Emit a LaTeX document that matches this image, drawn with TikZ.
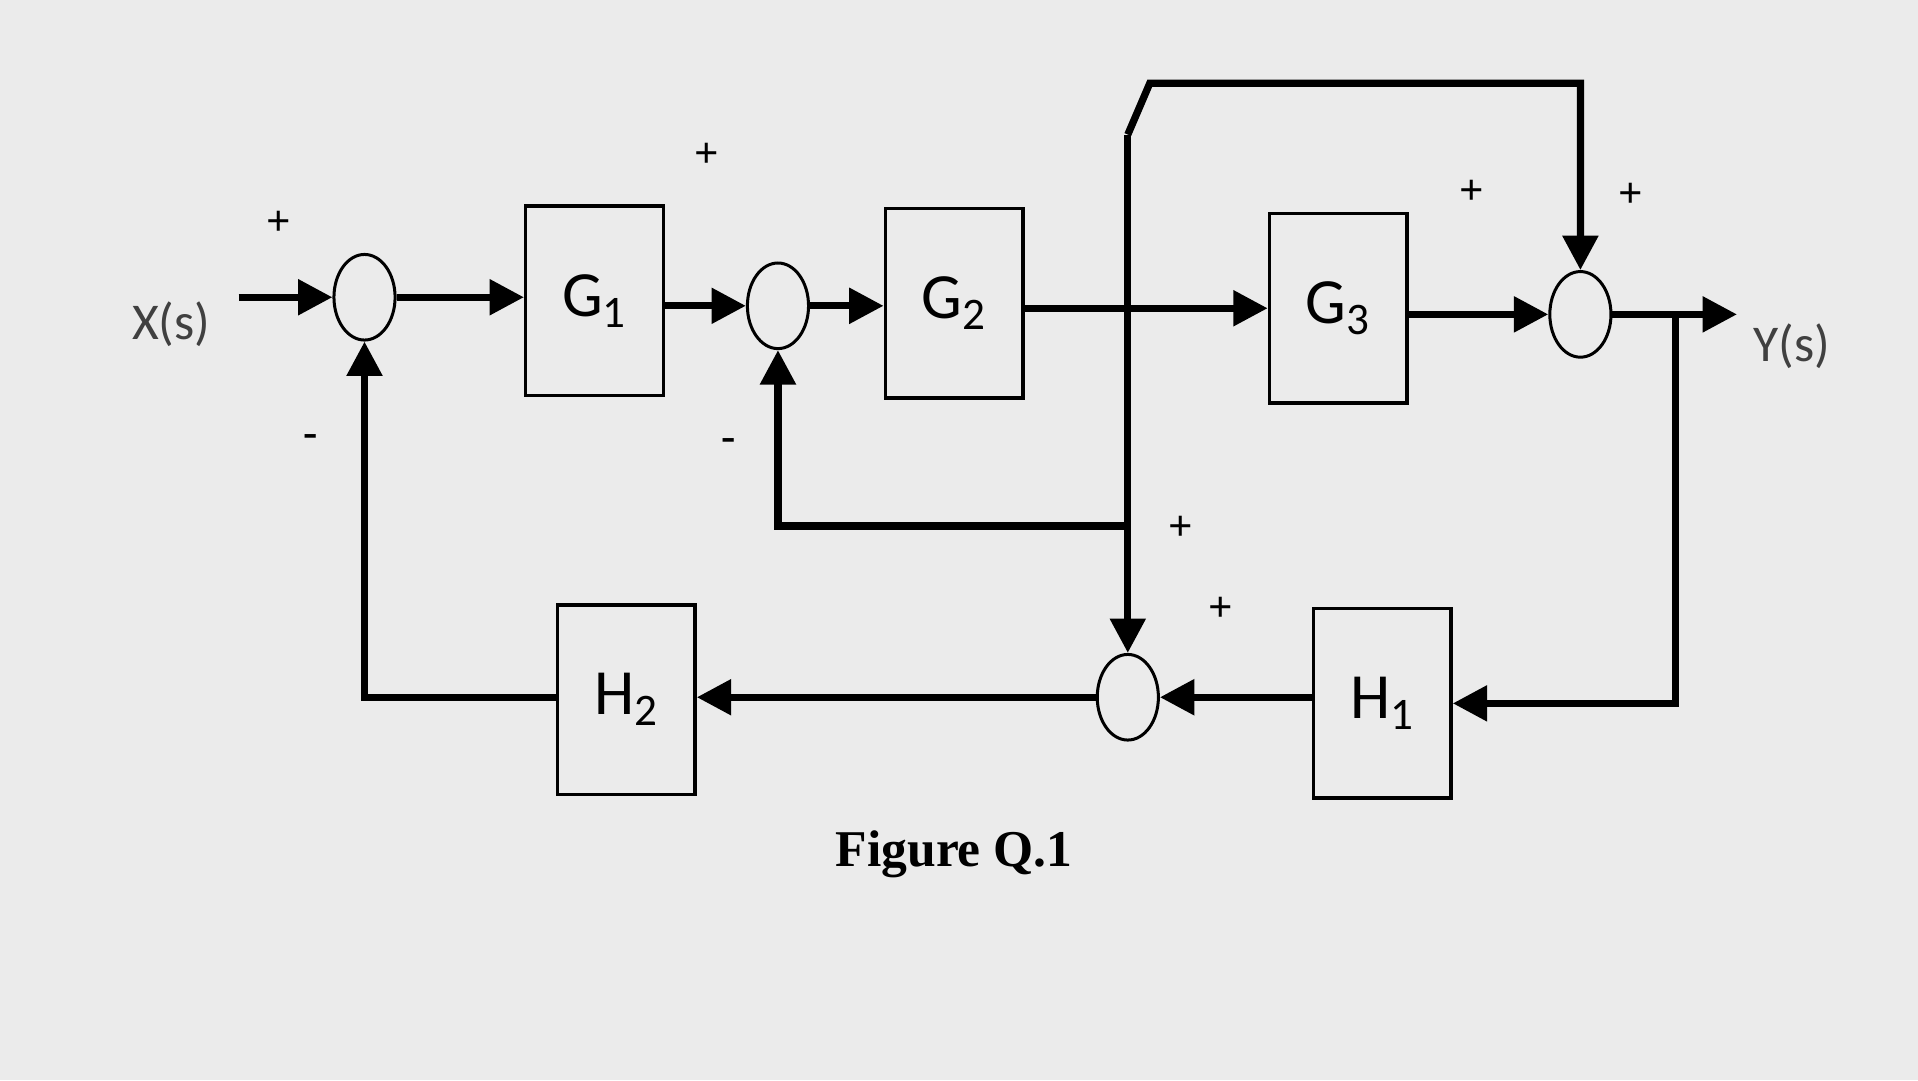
\documentclass[tikz,border=0pt]{standalone}
\usepackage{fontspec}
\setmainfont{Liberation Serif}
\newfontfamily\blocksf{Carlito}
\usetikzlibrary{arrows.meta,shapes.geometric}
\begin{document}
\begin{tikzpicture}[x=0.02cm, y=-0.02cm,
  blk/.style={draw, line width=1.6pt, minimum width=2.25cm, minimum height=3.1cm, font=\blocksf\fontsize{30}{30}\selectfont},
  sum/.style={draw, ellipse, line width=1.4pt, minimum width=1cm, minimum height=1.4cm},
  sig/.style={line width=3.4pt, -{Triangle[length=16pt,width=16pt]}},
  sgn/.style={font=\bfseries\fontsize{20}{20}\selectfont},
  lbl/.style={font=\blocksf\fontsize{24}{24}\selectfont, text=black!75}]
\fill[black!8] (0,0) rectangle (1568,883);
\useasboundingbox (0,0) rectangle (1568,883);
% forward path
\node[lbl] (x) at (140,265) {X(s)};
\node[sum] (s1) at (298,243) {};
\node[blk] (g1) at (486,246) {G\textsubscript{1}};
\node[sum] (s2) at (636,250) {};
\node[blk] (g2) at (780,248) {G\textsubscript{2}};
\node[blk] (g3) at (1094,252) {G\textsubscript{3}};
\node[sum] (s3) at (1292,257) {};
\node[lbl] (y) at (1465,283) {Y(s)};
% feedback path
\node[blk] (h1) at (1130,575) {H\textsubscript{1}};
\node[sum] (s4) at (922,570) {};
\node[blk] (h2) at (512,572) {H\textsubscript{2}};
\coordinate (in) at (195,243);
\coordinate (out) at (1420,257);
\coordinate (yb) at (1370,257);
\coordinate (jf) at (922,430);
\coordinate (bend) at (922,110);
\coordinate (top) at (940,68);
\draw[sig] (in) -- (s1.west);
\draw[sig] (s1.east) -- (g1.west |- s1.east);
\draw[sig] (g1.east |- s2.west) -- (s2.west);
\draw[sig] (s2.east) -- (g2.west |- s2.east);
\draw[sig] (g2.east |- g3.west) -- (g3.west);
\draw[sig] (g3.east |- s3.west) -- (s3.west);
\draw[sig] (s3.east) -- (out);
\draw[sig] (yb) -- (yb |- h1.east) -- (h1.east);
\draw[sig] (h1.west |- s4.east) -- (s4.east);
\draw[sig] (s4.west) -- (h2.east |- s4.west);
\draw[sig] (h2.west |- s4.west) -- (s1.south |- s4.west) -- (s1.south);
\draw[sig] (jf) -- (s2.south |- jf) -- (s2.south);
\draw[sig] (bend) -- (s4.north);
\draw[sig] (bend) -- (top) -- (top -| s3.north) -- (s3.north);
% signs
\node[sgn] at (228,183) {+};
\node[sgn] at (254,360) {-};
\node[sgn] at (578,127) {+};
\node[sgn] at (596,363) {-};
\node[sgn] at (1203,157) {+};
\node[sgn] at (1333,160) {+};
\node[sgn] at (965,432) {+};
\node[sgn] at (998,498) {+};
\node[font=\bfseries\fontsize{24}{24}\selectfont] (cap) at (780,698) {Figure Q.1};
\end{tikzpicture}
\end{document}
